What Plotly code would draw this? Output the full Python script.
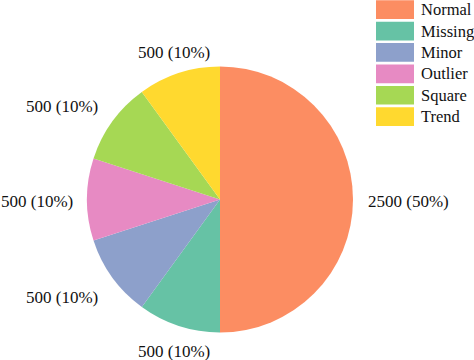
import math
import plotly.graph_objects as go

categories = ["Normal", "Missing", "Minor", "Outlier", "Square", "Trend"]
values = [2500, 500, 500, 500, 500, 500]
colors = ["#fc8d62", "#66c2a5", "#8da0cb", "#e78ac3", "#a6d854", "#ffd92f"]

W, H = 474, 360
CX, CY, R = 220.0, 199.5, 133.0
FONT = "Liberation Serif"

fig = go.Figure(
    go.Pie(
        labels=categories,
        values=values,
        sort=False,
        direction="clockwise",
        rotation=0,
        marker=dict(colors=colors, line=dict(width=0)),
        textinfo="none",
        hoverinfo="label+value+percent",
        showlegend=False,
        domain=dict(x=[(CX - R) / W, (CX + R) / W], y=[(H - CY - R) / H, (H - CY + R) / H]),
    )
)

annotations = []
total = sum(values)
cum = 0
for cat, v in zip(categories, values):
    mid = (cum + v / 2) / total * 2 * math.pi
    cum += v
    dx, dy = math.sin(mid), -math.cos(mid)  # screen coords, y down
    if abs(dx) < 0.5:
        xa = "center"
        ya = "bottom" if dy < 0 else "top"
    else:
        xa = "left" if dx > 0 else "right"
        ya = "bottom" if dy < -0.3 else ("top" if dy > 0.3 else "middle")
    d = 146.5 if ya == "middle" else 149.0
    px, py = CX + d * dx, CY + d * dy
    if ya == "bottom":
        py += 5
    elif ya == "middle":
        py += 1.5
    pct = round(v / total * 100)
    annotations.append(dict(
        x=px / W, y=1 - py / H, xref="paper", yref="paper",
        text=f"{v} ({pct}%)", showarrow=False, xanchor=xa, yanchor=ya,
        font=dict(family=FONT, size=17, color="#111111"), borderpad=0,
    ))

# legend
shapes = []
SW_X0, SW_X1, TOP0, PITCH, SH = 376, 414, 0.3, 21.4, 18.7
for i, (cat, c) in enumerate(zip(categories, colors)):
    t = TOP0 + i * PITCH
    shapes.append(dict(type="rect", xref="paper", yref="paper",
                       x0=SW_X0 / W, x1=SW_X1 / W, y0=1 - (t + SH) / H, y1=1 - t / H,
                       fillcolor=c, line=dict(width=0)))
    annotations.append(dict(
        x=420 / W, y=1 - (t + SH / 2) / H, xref="paper", yref="paper",
        text=cat, showarrow=False, xanchor="left", yanchor="middle",
        font=dict(family=FONT, size=16.5, color="#111111"), borderpad=0,
    ))

fig.update_layout(
    width=W, height=H,
    margin=dict(l=0, r=0, t=0, b=0),
    paper_bgcolor="white", plot_bgcolor="white",
    font=dict(family=FONT),
    annotations=annotations, shapes=shapes,
    showlegend=False,
)

fig.write_html("out.html")
